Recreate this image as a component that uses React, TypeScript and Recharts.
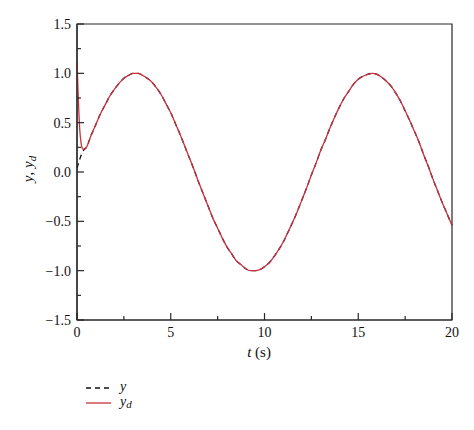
import { LineChart, Line, XAxis, YAxis, ReferenceArea } from 'recharts';

// sample times (s) — denser near the start to catch the transient
const TIME = [
  0, 0.05, 0.1, 0.15, 0.2, 0.25, 0.3, 0.35, 0.4, 0.5,
  0.75, 1, 1.25, 1.5, 1.75, 2, 2.25, 2.5, 2.75, 3, 3.25, 3.5, 3.75, 4, 4.25, 4.5, 4.75, 5,
  5.25, 5.5, 5.75, 6, 6.25, 6.5, 6.75, 7, 7.25, 7.5, 7.75, 8, 8.25, 8.5, 8.75, 9, 9.25, 9.5, 9.75, 10,
  10.25, 10.5, 10.75, 11, 11.25, 11.5, 11.75, 12, 12.25, 12.5, 12.75, 13, 13.25, 13.5, 13.75, 14, 14.25, 14.5, 14.75, 15,
  15.25, 15.5, 15.75, 16, 16.25, 16.5, 16.75, 17, 17.25, 17.5, 17.75, 18, 18.25, 18.5, 18.75, 19, 19.25, 19.5, 19.75, 20,
];

// shared part of both curves after the transient (t >= 0.75)
const TRACK = [
  0.37, 0.48, 0.59, 0.68, 0.77, 0.84, 0.9, 0.95, 0.98, 1.0, 1.0, 0.98, 0.95, 0.91, 0.85, 0.78, 0.69, 0.6,
  0.49, 0.38, 0.26, 0.14, 0.02, -0.11, -0.23, -0.35, -0.47, -0.57, -0.67, -0.76, -0.83, -0.9, -0.94, -0.98, -1.0, -1.0, -0.99, -0.96,
  -0.92, -0.86, -0.79, -0.71, -0.61, -0.51, -0.4, -0.28, -0.16, -0.03, 0.09, 0.22, 0.33, 0.45, 0.56, 0.66, 0.75, 0.82, 0.89, 0.94,
  0.97, 0.99, 1.0, 0.99, 0.96, 0.92, 0.87, 0.8, 0.72, 0.62, 0.52, 0.41, 0.3, 0.17, 0.05, -0.08, -0.2, -0.32, -0.43, -0.54,
];

// y (dashed black): starts near zero
const Y_ACTUAL = [0.04, 0.07, 0.1, 0.13, 0.16, 0.18, 0.2, 0.22, 0.23, 0.25, ...TRACK];

// y_d (red): starts high and drops fast
const Y_DESIRED = [1.12, 0.85, 0.6, 0.42, 0.32, 0.26, 0.235, 0.23, 0.235, 0.25, ...TRACK];

const X_TICKS = [0, 2.5, 5, 7.5, 10, 12.5, 15, 17.5, 20];
const X_LABELS = [0, 5, 10, 15, 20];
const Y_TICKS = [-1.5, -1.25, -1, -0.75, -0.5, -0.25, 0, 0.25, 0.5, 0.75, 1, 1.25, 1.5];
const Y_LABELS = [-1.5, -1, -0.5, 0, 0.5, 1, 1.5];

const data = TIME.map((t, i) => ({ t, y: Y_ACTUAL[i], yd: Y_DESIRED[i] }));

const SERIF = 'Liberation Serif';
const AXIS = '#262626';
const INK = '#111';
const RED = '#c8303e';

const fmtY = (v: number) => (v < 0 ? '\u2212' + Math.abs(v).toFixed(1) : v.toFixed(1));

const XTick = ({ x, y, payload }: any) => {
  const major = X_LABELS.includes(payload.value);
  return (
    <g>
      <line x1={x} x2={x} y1={y} y2={y - (major ? 7 : 4)} stroke={AXIS} strokeWidth={1.2} />
      {major && (
        <text x={x} y={y + 17} textAnchor="middle" fontSize={14} fontFamily={SERIF} fill={INK}>
          {payload.value}
        </text>
      )}
    </g>
  );
};

const YTick = ({ x, y, payload }: any) => {
  const major = Y_LABELS.includes(payload.value);
  return (
    <g>
      <line x1={x} x2={x + (major ? 7 : 4)} y1={y} y2={y} stroke={AXIS} strokeWidth={1.2} />
      {major && (
        <text x={x - 6} y={y + 5} textAnchor="end" fontSize={14} fontFamily={SERIF} fill={INK}>
          {fmtY(payload.value)}
        </text>
      )}
    </g>
  );
};

// axis titles and legend drawn in a plain overlay
const Overlay = () => (
  <svg width={474} height={430} style={{ position: 'absolute', left: 0, top: 0, pointerEvents: 'none' }}>
    <text x={33} y={169} transform="rotate(-90, 33, 169)" textAnchor="middle" fontSize={15} fontFamily={SERIF} fill={INK}>
      <tspan fontStyle="italic">y</tspan>
      <tspan>, </tspan>
      <tspan fontStyle="italic">y</tspan>
      <tspan fontStyle="italic" fontSize={11} dy={3}>d</tspan>
    </text>
    <text x={259} y={357} textAnchor="middle" fontSize={15} fontFamily={SERIF} fill={INK}>
      <tspan fontStyle="italic">t</tspan>
      <tspan> (s)</tspan>
    </text>
    <line x1={86} x2={111} y1={388} y2={388} stroke={INK} strokeWidth={1.3} strokeDasharray="5 4" />
    <text x={120} y={391} fontSize={14} fontStyle="italic" fontFamily={SERIF} fill={INK}>y</text>
    <line x1={86} x2={111} y1={403} y2={403} stroke={RED} strokeWidth={1.3} />
    <text x={120} y={406} fontSize={14} fontStyle="italic" fontFamily={SERIF} fill={INK}>
      y<tspan fontSize={11} dy={2}>d</tspan>
    </text>
  </svg>
);

export default function App() {
  return (
    <div style={{ position: 'absolute', left: 0, top: 0, width: 474, height: 430, background: '#fff' }}>
      <LineChart width={474} height={430} data={data} margin={{ top: 24, right: 22, left: 0, bottom: 0 }}>
        <XAxis
          dataKey="t"
          type="number"
          domain={[0, 20]}
          ticks={X_TICKS}
          interval={0}
          height={110}
          tickSize={0}
          tickMargin={0}
          tickLine={false}
          tick={<XTick />}
          axisLine={{ stroke: AXIS, strokeWidth: 1.2 }}
        />
        <YAxis
          type="number"
          domain={[-1.5, 1.5]}
          ticks={Y_TICKS}
          interval={0}
          width={77}
          tickSize={0}
          tickMargin={0}
          tickLine={false}
          tick={<YTick />}
          axisLine={{ stroke: AXIS, strokeWidth: 1.2 }}
        />
        <ReferenceArea x1={0} x2={20} y1={-1.5} y2={1.5} fill="none" stroke={AXIS} strokeWidth={1.2} />
        <Line dataKey="y" name="y" type="monotone" stroke={INK} strokeWidth={1.3} strokeDasharray="5 4" dot={false} isAnimationActive={false} />
        <Line dataKey="yd" name="y_d" type="monotone" stroke={RED} strokeWidth={1.3} dot={false} isAnimationActive={false} />
      </LineChart>
      <Overlay />
    </div>
  );
}
